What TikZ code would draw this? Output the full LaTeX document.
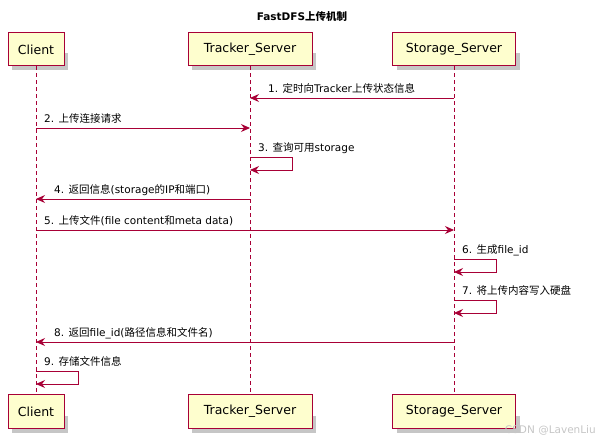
\documentclass[tikz,border=0pt]{standalone}
\usepackage{fontspec}
\setmainfont{DejaVu Sans}
\newfontfamily\cjkf{Noto Sans CJK SC}
\newcommand{\zh}[1]{{\cjkf #1}}
\usetikzlibrary{arrows.meta}
\definecolor{pr}{HTML}{A80036}
\definecolor{pf}{HTML}{FEFECE}
\begin{document}
\begin{tikzpicture}[x=1pt,y=-1pt,
 part/.style={draw=pr,fill=pf,line width=1pt,minimum height=33pt,inner sep=0pt,font=\fontsize{12.5}{14}\selectfont},
 life/.style={draw=pr,dash pattern=on 4pt off 3pt,line width=0.8pt},
 msg/.style={draw=pr,line width=0.9pt,-{Stealth[length=9pt,width=8pt,inset=3pt]}},
 lbl/.style={font=\fontsize{10.5}{12}\selectfont,anchor=base west,inner sep=0pt}]
\useasboundingbox (0,0) rectangle (605,443);
\node[font=\bfseries\fontsize{10.5}{12}\selectfont] (t) at (302,17) {FastDFS\zh{上传机制}};
\foreach \n/\x/\w/\s in {c/36/56/Client,t/250/124/Tracker\_Server,s/454/123/Storage\_Server}{
 \fill[gray!45] (\x-\w/2+4,53.5) rectangle (\x+\w/2+4,70.5);
 \fill[gray!45] (\x-\w/2+4,415.5) rectangle (\x+\w/2+4,432.5);
 \node[part,minimum width=\w pt] (\n1) at (\x,49.5) {\s};
 \node[part,minimum width=\w pt] (\n2) at (\x,411.5) {\s};
 \draw[life] (\n1.south) -- (\n2.north);
}
\coordinate (c0) at (36,0); \coordinate (t0) at (250,0); \coordinate (s0) at (454,0);
% 1
\draw[msg] (s0|-0,98) -- (t0|-0,98);
\node[lbl] at (268,93) {1. \zh{定时向}Tracker\zh{上传状态信息}};
% 2
\draw[msg] (c0|-0,128) -- (t0|-0,128);
\node[lbl] at (44,123) {2. \zh{上传连接请求}};
% 3
\draw[msg] (t0|-0,157) -- (292,157) -- (292,170) -- (t0|-0,170);
\node[lbl] at (258,152) {3. \zh{查询可用}storage};
% 4
\draw[msg] (t0|-0,199) -- (c0|-0,199);
\node[lbl] at (54,194) {4. \zh{返回信息}(storage\zh{的}IP\zh{和端口})};
% 5
\draw[msg] (c0|-0,230) -- (s0|-0,230);
\node[lbl] at (44,225) {5. \zh{上传文件}(file content\zh{和}meta data)};
% 6
\draw[msg] (s0|-0,259) -- (496,259) -- (496,272) -- (s0|-0,272);
\node[lbl] at (462,254) {6. \zh{生成}file\_id};
% 7
\draw[msg] (s0|-0,300) -- (496,300) -- (496,313) -- (s0|-0,313);
\node[lbl] at (462,295) {7. \zh{将上传内容写入硬盘}};
% 8
\draw[msg] (s0|-0,342) -- (c0|-0,342);
\node[lbl] at (54,337) {8. \zh{返回}file\_id(\zh{路径信息和文件名})};
% 9
\draw[msg] (c0|-0,371) -- (78,371) -- (78,384) -- (c0|-0,384);
\node[lbl] at (44,366) {9. \zh{存储文件信息}};
\node[font=\fontsize{10.5}{12}\selectfont,text=gray!45,anchor=south east,inner sep=0pt] (wm) at (596,436) {CSDN @LavenLiu};
\end{tikzpicture}
\end{document}
